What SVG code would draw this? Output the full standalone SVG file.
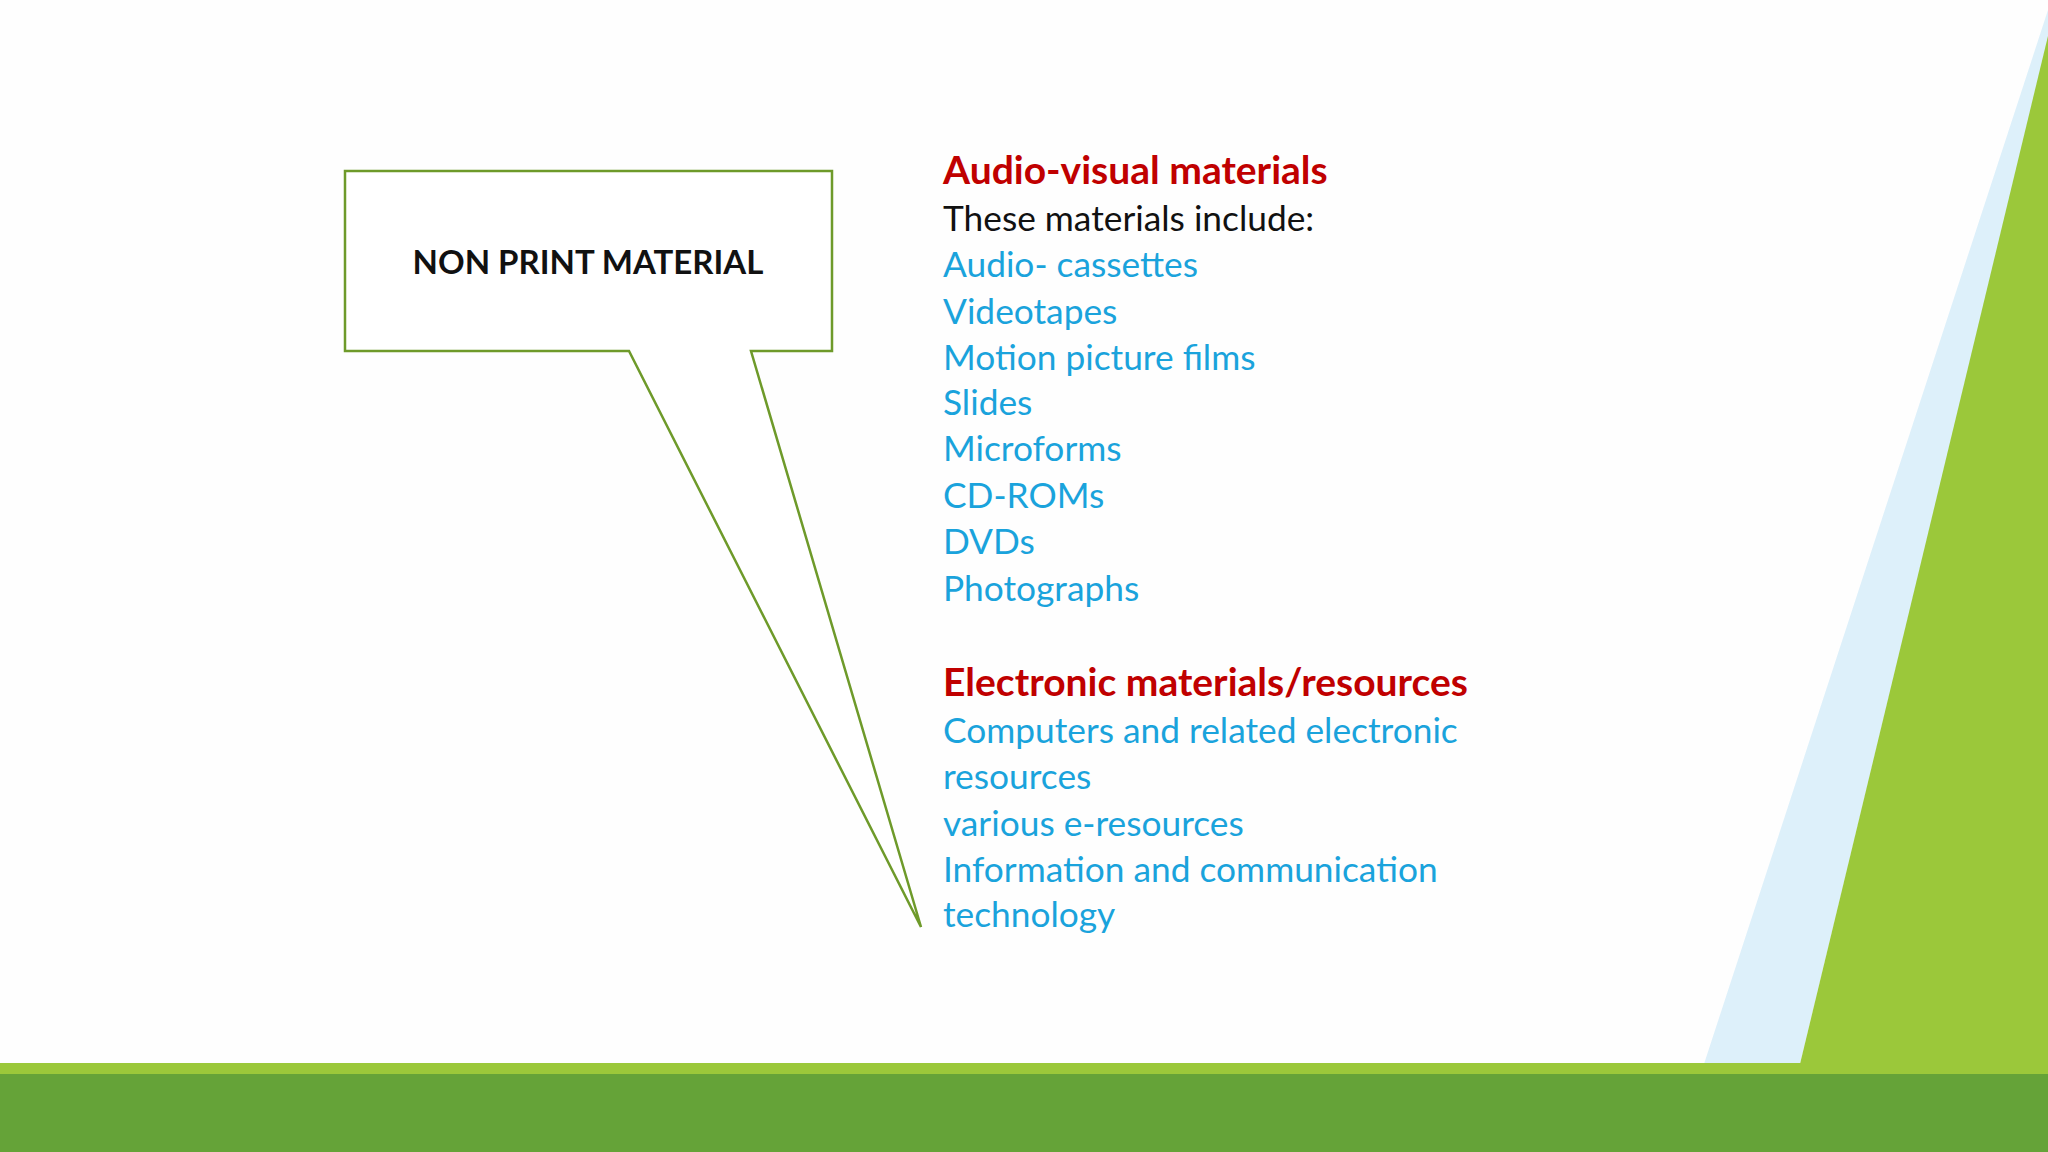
<svg xmlns="http://www.w3.org/2000/svg" width="2048" height="1152" viewBox="0 0 2048 1152">
<style>
.t{font-family:Lato,"Open Sans",sans-serif;font-size:35.3px;fill:#1AA3DC}
.h{font-family:Lato,"Open Sans",sans-serif;font-size:39px;font-weight:bold;fill:#C00000}
.k{font-family:Lato,"Open Sans",sans-serif;font-size:35.3px;fill:#111}
</style>
<rect width="2048" height="1152" fill="#fefefe"/>
<g id="decor">
<polygon points="2048,10 1704,1064 1800,1064 2048,40" fill="#DDF0FA"/>
<polygon points="2048,36 1800,1064 2048,1064" fill="#9BC83A"/>
<rect x="0" y="1063" width="2048" height="11" fill="#9BC83A"/>
<rect x="0" y="1074" width="2048" height="78" fill="#65A338"/>
</g>
<g id="callout">
<path d="M345,171 H832 V351 H751 L921,927 L629,351 H345 Z" fill="#fff" stroke="#6E9A2A" stroke-width="2.5"/>
<text x="588" y="274" text-anchor="middle" font-family="Lato,'Open Sans',sans-serif" font-size="33" font-weight="bold" fill="#111">NON PRINT MATERIAL</text>
</g>
<g id="list">
<text class="h" x="943" y="184">Audio-visual materials</text>
<text class="k" x="943" y="231">These materials include:</text>
<text class="t" x="943" y="277">Audio- cassettes</text>
<text class="t" x="943" y="324">Videotapes</text>
<text class="t" x="943" y="370">Motion picture films</text>
<text class="t" x="943" y="415">Slides</text>
<text class="t" x="943" y="461">Microforms</text>
<text class="t" x="943" y="508">CD-ROMs</text>
<text class="t" x="943" y="554">DVDs</text>
<text class="t" x="943" y="601">Photographs</text>
<text class="h" x="943" y="696">Electronic materials/resources</text>
<text class="t" x="943" y="743">Computers and related electronic</text>
<text class="t" x="943" y="789">resources</text>
<text class="t" x="943" y="836">various e-resources</text>
<text class="t" x="943" y="882">Information and communication</text>
<text class="t" x="943" y="927">technology</text>
</g>
</svg>
